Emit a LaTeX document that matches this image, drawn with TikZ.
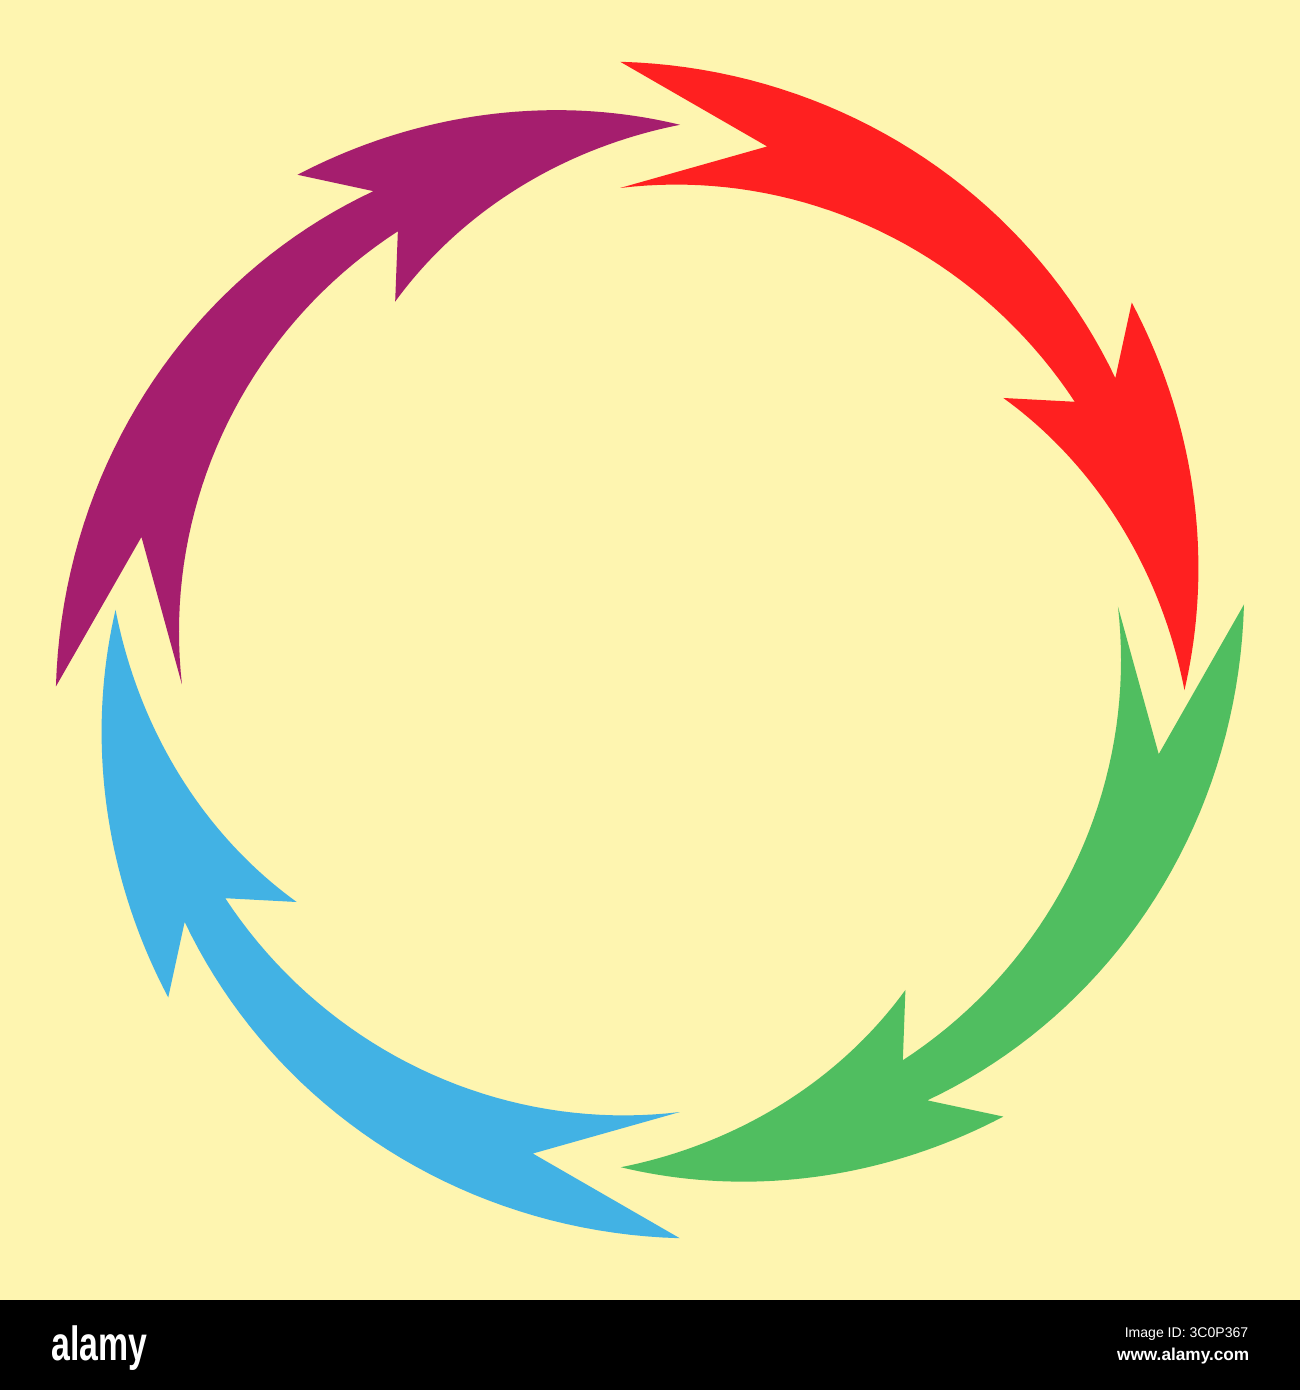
\documentclass[tikz,border=0pt]{standalone}
\usepackage{xcolor}
\usepackage{fontspec}
\setmainfont{Liberation Sans}
\usepackage{tikz}
\definecolor{paper}{RGB}{254,245,176}
\definecolor{arrowred}{RGB}{255,32,32}
\definecolor{arrowgreen}{RGB}{80,190,96}
\definecolor{arrowblue}{RGB}{66,178,228}
\definecolor{arrowpurple}{RGB}{165,30,110}

\begin{document}
\begin{tikzpicture}[x = 0.01cm, y = 0.01cm]
	\fill[paper] (0,90) rectangle (1300,1390);
	\fill[black] (0,0) rectangle (1300,90);
	% four curved arrows, each a turned copy of the red one (\s bends green and purple a little)
	\foreach \col/\rot/\dy/\s in {arrowred/0/0/0, arrowgreen/-88.9/4/6.5, arrowblue/180/0/0, arrowpurple/91/4/6.5}
	{
		\begin{scope}[shift = {(650,740+\dy)}, rotate = \rot]
			\fill[\col] ({92.9}:{589+\s*(92.9-62)/31})
				-- plot[domain = 92.9:30.3, samples = 40, variable = \t] ({\t}:{589-50*(92.9-\t)/62.6+\s*(\t-62)/31})
				-- ({35.8}:{594+\s*(35.8-62)/31})
				-- plot[domain = 35.8:-4.3, samples = 40, variable = \t] ({\t}:{594-58*(35.8-\t)/40.1+\s*(\t-62)/31})
				-- plot[domain = -4.3:35.5, samples = 40, variable = \t] ({\t}:{536-102*(\t+4.3)/39.8+\s*(\t-62)/31})
				-- ({30.3}:{492+\s*(30.3-62)/31})
				-- plot[domain = 30.3:93.7, samples = 40, variable = \t] ({\t}:{492-29*(\t-30.3)/63.4+\s*(\t-62)/31})
				-- ({76.9}:{517+\s*(76.9-62)/31}) -- cycle;
		\end{scope}
	}
	\node[white, inner sep = 0, anchor = base west, xscale = 0.74, yscale = 1.05, font = \bfseries\fontsize{13}{13}\selectfont] (logo) at (51,30) {alamy};
	\node[white, inner sep = 0, anchor = base east, font = \fontsize{4}{4}\selectfont] (imageid) at (1249,53) {Image ID: 3C0P367};
	\node[white, inner sep = 0, anchor = base east, font = \bfseries\fontsize{4.9}{4.9}\selectfont] (weblink) at (1250,30) {www.alamy.com};
\end{tikzpicture}
\end{document}
